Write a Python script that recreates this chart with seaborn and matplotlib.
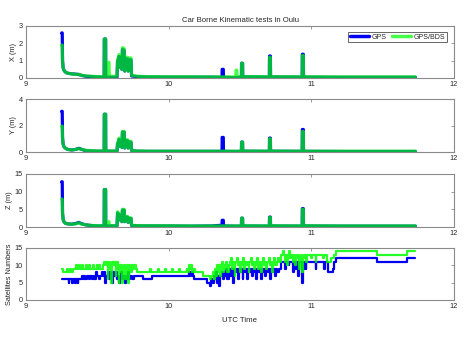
import numpy as np
import pandas as pd
import matplotlib
matplotlib.use("Agg")
import matplotlib.pyplot as plt
import seaborn as sns
from matplotlib.lines import Line2D

# ---------------- data ----------------
# shared epoch grid (UTC hours) for the positioning-error panels
t_err = [9.250, 9.254, 9.256, 9.260, 9.266, 9.275, 9.290, 9.320, 9.350, 9.370,
         9.390, 9.420, 9.460, 9.500, 9.548, 9.549, 9.558, 9.559, 9.576, 9.578,
         9.582, 9.584, 9.638, 9.642, 9.648, 9.652, 9.660, 9.664, 9.672, 9.676,
         9.688, 9.692, 9.700, 9.712, 9.716, 9.722, 9.736, 9.740, 9.780, 9.850,
         10.000, 10.150, 10.300, 10.374, 10.375, 10.383, 10.384, 10.470, 10.472, 10.478,
         10.480, 10.510, 10.511, 10.518, 10.519, 10.530, 10.706, 10.707, 10.713, 10.714,
         10.725, 10.936, 10.937, 10.944, 10.945, 10.960, 11.200, 11.730]

x_gps = [2.6, 2.6, 1.0, 0.6, 0.45, 0.35, 0.28, 0.24, 0.22, 0.2,
         0.15, 0.1, 0.08, 0.06, 0.06, 2.25, 2.25, 0.06, 0.05, 0.05,
         0.05, 0.05, 0.05, 1.0, 0.6, 1.25, 0.8, 1.1, 0.5, 1.65,
         1.6, 0.4, 1.1, 1.1, 0.4, 1.05, 1.05, 0.12, 0.08, 0.06,
         0.05, 0.05, 0.05, 0.04, 0.5, 0.5, 0.04, 0.02, 0.02, 0.02,
         0.03, 0.05, 0.85, 0.85, 0.12, 0.07, 0.05, 1.27, 1.27, 0.12,
         0.06, 0.05, 1.37, 1.37, 0.12, 0.05, 0.04, 0.04]
x_bds = [1.9, 1.9, 1.0, 0.6, 0.45, 0.35, 0.28, 0.24, 0.2, 0.22,
         0.15, 0.12, 0.1, 0.08, 0.08, 2.25, 2.25, 0.08, 0.1, 0.9,
         0.9, 0.1, 0.1, 1.1, 0.6, 1.35, 0.8, 1.2, 0.5, 1.75,
         1.7, 0.4, 1.2, 1.2, 0.4, 1.15, 1.15, 0.15, 0.1, 0.08,
         0.07, 0.07, 0.06, 0.06, 0.06, 0.06, 0.06, 0.06, 0.45, 0.45,
         0.08, 0.08, 0.85, 0.85, 0.12, 0.08, 0.07, 1.2, 1.2, 0.12,
         0.07, 0.07, 1.3, 1.3, 0.12, 0.07, 0.06, 0.06]

y_gps = [3.07, 3.07, 1.1, 0.6, 0.4, 0.3, 0.2, 0.15, 0.2, 0.28,
         0.2, 0.1, 0.08, 0.06, 0.06, 2.85, 2.85, 0.06, 0.06, 0.06,
         0.06, 0.06, 0.06, 0.65, 0.4, 0.95, 0.5, 0.75, 0.35, 1.5,
         1.5, 0.3, 0.85, 0.85, 0.3, 0.75, 0.75, 0.1, 0.06, 0.05,
         0.05, 0.05, 0.05, 0.05, 1.1, 1.1, 0.05, 0.04, 0.04, 0.04,
         0.04, 0.05, 0.75, 0.75, 0.1, 0.06, 0.05, 1.05, 1.05, 0.1,
         0.06, 0.05, 1.7, 1.7, 0.1, 0.05, 0.04, 0.04]
y_bds = [1.95, 1.95, 1.1, 0.6, 0.4, 0.3, 0.2, 0.15, 0.2, 0.25,
         0.2, 0.12, 0.1, 0.08, 0.08, 2.85, 2.85, 0.08, 0.08, 0.08,
         0.08, 0.08, 0.08, 0.75, 0.4, 1.05, 0.5, 0.8, 0.35, 1.55,
         1.55, 0.3, 0.93, 0.93, 0.3, 0.8, 0.8, 0.1, 0.08, 0.06,
         0.06, 0.06, 0.06, 0.06, 0.06, 0.06, 0.06, 0.06, 0.06, 0.06,
         0.06, 0.06, 0.75, 0.75, 0.1, 0.07, 0.06, 1.0, 1.0, 0.1,
         0.07, 0.06, 1.55, 1.55, 0.1, 0.06, 0.06, 0.06]

z_gps = [12.8, 12.8, 4.0, 2.2, 1.5, 1.1, 0.9, 0.8, 1.0, 1.3,
         0.9, 0.6, 0.4, 0.3, 0.3, 10.6, 10.6, 0.3, 0.3, 0.3,
         0.3, 0.3, 0.3, 4.0, 2.0, 3.6, 2.0, 2.7, 1.5, 4.8,
         4.8, 1.5, 2.8, 2.8, 1.3, 2.4, 2.4, 0.45, 0.35, 0.3,
         0.3, 0.25, 0.3, 0.5, 1.9, 1.9, 0.3, 0.25, 0.25, 0.25,
         0.25, 0.25, 2.5, 2.5, 0.5, 0.3, 0.25, 2.8, 2.8, 0.5,
         0.3, 0.25, 5.2, 5.2, 0.5, 0.3, 0.25, 0.25]
z_bds = [7.9, 7.9, 4.0, 2.2, 1.5, 1.1, 0.9, 0.8, 0.9, 1.2,
         0.8, 0.6, 0.45, 0.35, 0.35, 10.6, 10.6, 0.35, 0.35, 1.5,
         1.5, 0.35, 0.35, 4.3, 2.0, 3.9, 2.0, 3.0, 1.5, 5.0,
         5.0, 1.5, 3.0, 3.0, 1.3, 2.6, 2.6, 0.5, 0.4, 0.35,
         0.35, 0.3, 0.3, 0.3, 0.3, 0.3, 0.3, 0.3, 0.3, 0.3,
         0.3, 0.3, 2.5, 2.5, 0.5, 0.35, 0.3, 2.7, 2.7, 0.5,
         0.35, 0.3, 5.0, 5.0, 0.5, 0.35, 0.3, 0.3]

# tracked satellites (step series: value holds until the next epoch)
sat_gps_t = [9.250, 9.300, 9.303, 9.325, 9.328, 9.345, 9.348, 9.362, 9.365, 9.390,
             9.398, 9.405, 9.415, 9.425, 9.440, 9.448, 9.460, 9.468, 9.480, 9.488,
             9.495, 9.510, 9.518, 9.530, 9.538, 9.548, 9.556, 9.562, 9.572, 9.580,
             9.588, 9.596, 9.604, 9.610, 9.620, 9.628, 9.636, 9.644, 9.652, 9.658,
             9.668, 9.676, 9.684, 9.692, 9.698, 9.708, 9.716, 9.724, 9.732, 9.745,
             9.760, 9.817, 9.880, 10.140, 10.148, 10.160, 10.168, 10.180, 10.270, 10.290,
             10.296, 10.310, 10.318, 10.326, 10.334, 10.342, 10.348, 10.356, 10.362, 10.372,
             10.380, 10.388, 10.396, 10.404, 10.412, 10.420, 10.430, 10.438, 10.446, 10.454,
             10.460, 10.470, 10.478, 10.486, 10.492, 10.502, 10.510, 10.518, 10.524, 10.534,
             10.542, 10.550, 10.556, 10.566, 10.574, 10.582, 10.588, 10.598, 10.606, 10.614,
             10.620, 10.630, 10.638, 10.646, 10.652, 10.662, 10.670, 10.678, 10.684, 10.694,
             10.702, 10.710, 10.716, 10.726, 10.734, 10.744, 10.750, 10.762, 10.770, 10.785,
             10.815, 10.821, 10.840, 10.846, 10.870, 10.876, 10.888, 10.894, 10.910, 10.916,
             10.935, 10.941, 10.948, 10.960, 10.966, 11.030, 11.036, 11.090, 11.096, 11.120,
             11.150, 11.160, 11.170, 11.460, 11.670, 11.730]
sat_gps_n = [6, 5, 6, 5, 6, 5, 6, 5, 6, 7,
             6, 7, 6, 7, 6, 7, 6, 7, 6, 8,
             7, 6, 7, 8, 7, 8, 5, 7, 8, 6,
             8, 7, 5, 8, 7, 8, 6, 7, 5, 7,
             8, 6, 7, 5, 7, 6, 8, 6, 7, 6,
             7, 6, 7, 8, 7, 8, 7, 6, 5, 4,
             6, 5, 7, 6, 8, 5, 7, 4, 7, 8,
             6, 8, 7, 9, 6, 8, 9, 7, 9, 5,
             9, 8, 9, 6, 9, 8, 9, 6, 9, 8,
             9, 6, 9, 8, 9, 7, 9, 8, 9, 6,
             9, 8, 9, 6, 9, 8, 9, 7, 9, 8,
             9, 6, 9, 8, 9, 7, 9, 8, 9, 11,
             9, 11, 10, 11, 8, 11, 9, 11, 7, 11,
             5, 9, 11, 9, 11, 9, 11, 9, 11, 8,
             9, 11, 12, 11, 12, 12]

sat_bds_t = [9.250, 9.262, 9.290, 9.296, 9.310, 9.318, 9.330, 9.350, 9.356, 9.372,
             9.378, 9.392, 9.398, 9.420, 9.426, 9.445, 9.452, 9.470, 9.478, 9.495,
             9.500, 9.515, 9.522, 9.540, 9.548, 9.560, 9.566, 9.572, 9.576, 9.585,
             9.592, 9.598, 9.603, 9.612, 9.620, 9.628, 9.634, 9.642, 9.650, 9.655,
             9.662, 9.668, 9.675, 9.680, 9.688, 9.695, 9.700, 9.710, 9.718, 9.723,
             9.732, 9.740, 9.748, 9.760, 9.770, 9.780, 9.868, 9.874, 9.928, 9.934,
             9.976, 9.982, 10.025, 10.031, 10.075, 10.081, 10.125, 10.131, 10.145, 10.150,
             10.160, 10.166, 10.176, 10.182, 10.240, 10.290, 10.300, 10.310, 10.318, 10.322,
             10.330, 10.338, 10.345, 10.352, 10.360, 10.366, 10.375, 10.382, 10.390, 10.398,
             10.405, 10.412, 10.420, 10.430, 10.440, 10.446, 10.452, 10.462, 10.468, 10.478,
             10.484, 10.492, 10.500, 10.506, 10.515, 10.522, 10.528, 10.535, 10.545, 10.552,
             10.560, 10.566, 10.578, 10.585, 10.592, 10.600, 10.606, 10.615, 10.622, 10.628,
             10.635, 10.645, 10.651, 10.660, 10.668, 10.676, 10.685, 10.692, 10.700, 10.708,
             10.716, 10.724, 10.730, 10.740, 10.748, 10.756, 10.764, 10.772, 10.785, 10.800,
             10.808, 10.815, 10.822, 10.830, 10.836, 10.845, 10.852, 10.858, 10.872, 10.878,
             10.888, 10.894, 10.900, 10.912, 10.918, 10.928, 10.935, 10.941, 10.950, 10.962,
             10.968, 11.000, 11.006, 11.030, 11.036, 11.080, 11.086, 11.110, 11.140, 11.160,
             11.170, 11.460, 11.670, 11.730]
sat_bds_n = [9, 8, 9, 8, 9, 8, 9, 10, 9, 10,
             9, 10, 9, 10, 9, 10, 9, 10, 9, 10,
             9, 10, 9, 10, 11, 10, 11, 6, 10, 11,
             9, 5, 11, 10, 11, 7, 11, 9, 5, 10,
             8, 10, 5, 9, 10, 6, 9, 10, 5, 10,
             8, 10, 9, 10, 9, 8, 9, 8, 9, 8,
             9, 8, 9, 8, 9, 8, 9, 8, 10, 9,
             10, 8, 9, 8, 7, 6, 7, 8, 6, 9,
             7, 10, 8, 10, 7, 9, 11, 8, 10, 9,
             11, 8, 10, 11, 12, 9, 11, 7, 11, 12,
             10, 11, 8, 11, 10, 12, 9, 11, 10, 11,
             8, 11, 12, 10, 11, 9, 11, 10, 12, 9,
             11, 8, 11, 12, 10, 11, 9, 11, 12, 10,
             11, 8, 11, 12, 10, 11, 12, 11, 13, 14,
             13, 11, 13, 10, 13, 14, 12, 13, 11, 13,
             10, 12, 13, 9, 12, 13, 8, 12, 13, 11,
             13, 12, 13, 11, 13, 12, 13, 11, 12, 13,
             14, 13, 14, 14]

series_names = ["GPS", "GPS/BDS"]
panel_labels = ["X (m)", "Y (m)", "Z (m)", "Satellites Numbers"]
panel_yticks = [[0, 1, 2, 3], [0, 2, 4], [0, 5, 10, 15], [0, 5, 10, 15]]
time_ticks = [9, 10, 11, 12]

# ---------------- style ----------------
sns.set_style("white")
plt.rcParams["font.family"] = ["Liberation Sans", "DejaVu Sans"]
plt.rcParams["font.size"] = 5.3

gps_color = "#0000f0"
bds_color = "#00ff00"
frame_color = "#8a8a8a"
text_color = "#262626"

fig = plt.figure(figsize=(4.74, 3.38), dpi=100)
W, H = 474.0, 338.0
left_px, right_px = 26, 454
rows_px = [(26, 78), (99, 152), (174, 227), (248, 300)]

axes = []
for top, bot in rows_px:
    ax = fig.add_axes([left_px / W, 1 - bot / H, (right_px - left_px) / W, (bot - top) / H])
    axes.append(ax)

err_sets = [(x_gps, x_bds), (y_gps, y_bds), (z_gps, z_bds)]
for ax, (g, b) in zip(axes[:3], err_sets):
    sns.lineplot(x=t_err, y=g, ax=ax, color=gps_color, linewidth=2.3,
                 estimator=None, sort=False)
    sns.lineplot(x=t_err, y=b, ax=ax, color=bds_color, linewidth=2.3,
                 alpha=0.72, estimator=None, sort=False)

sns.lineplot(x=sat_gps_t, y=sat_gps_n, ax=axes[3], color=gps_color, linewidth=1.6,
             estimator=None, sort=False, drawstyle="steps-post")
sns.lineplot(x=sat_bds_t, y=sat_bds_n, ax=axes[3], color=bds_color, linewidth=1.6,
             alpha=0.85, estimator=None, sort=False, drawstyle="steps-post")

for ax, lab, yt in zip(axes, panel_labels, panel_yticks):
    ax.set_xlim(time_ticks[0], time_ticks[-1])
    ax.set_ylim(yt[0], yt[-1])
    ax.set_xticks(time_ticks)
    ax.set_yticks(yt)
    ax.set_xticklabels([str(v) for v in time_ticks])
    ax.set_yticklabels([str(v) for v in yt])
    ax.set_ylabel(lab, color=text_color, labelpad=0.8)
    ax.set_xlabel("")
    ax.tick_params(direction="in", length=2.5, width=0.6, colors=frame_color,
                   labelcolor=text_color, labelsize=5.3, top=True, right=True,
                   pad=2.5)
    for sp in ax.spines.values():
        sp.set_color(frame_color)
        sp.set_linewidth(0.8)
    ax.set_facecolor("white")

axes[0].set_title("Car Borne Kinematic tests in Oulu", color=text_color,
                  fontsize=5.6, pad=3.0)
axes[3].set_xlabel("UTC Time", color=text_color, fontsize=5.6, labelpad=5)

handles = [Line2D([], [], color=gps_color, linewidth=2.5),
           Line2D([], [], color=bds_color, linewidth=2.5, alpha=0.72)]
leg = axes[0].legend(handles, series_names, loc="upper right", ncol=2,
                     bbox_to_anchor=((447 - 26) / 428, 1 - 6 / 52),
                     borderaxespad=0, frameon=True, fancybox=False,
                     handlelength=2.8, handletextpad=0.35, columnspacing=0.7,
                     borderpad=0.25, fontsize=5.0)
leg.get_frame().set_edgecolor("#404040")
leg.get_frame().set_linewidth(0.7)
for txt in leg.get_texts():
    txt.set_color(text_color)

fig.savefig("out.png", dpi=100, facecolor="white")
